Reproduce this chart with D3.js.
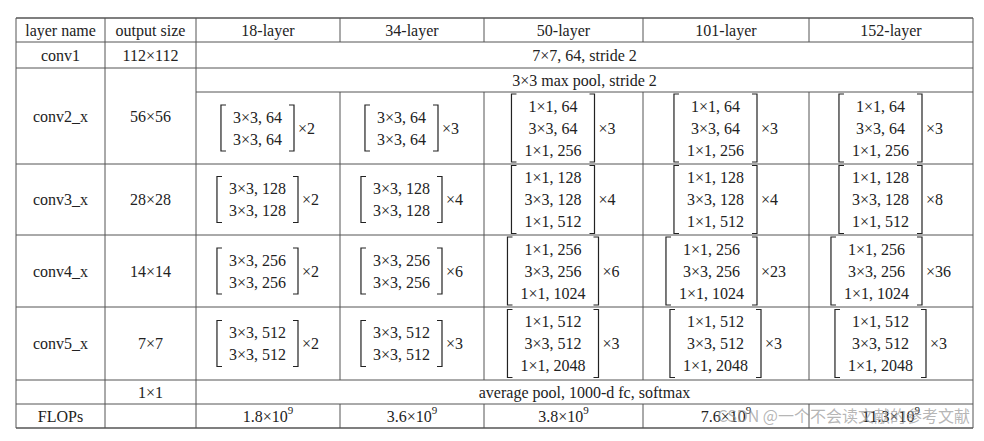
<!DOCTYPE html>
<html><head><meta charset="utf-8">
<script src="https://cdn.jsdelivr.net/npm/d3@7"></script>
<style>body{margin:0;background:#fff}</style>
</head><body><svg id="c" width="984" height="441"></svg>
<script>
// table content
const headers = ['layer name', 'output size', '18-layer', '34-layer', '50-layer', '101-layer', '152-layer'];
const stageNames = ['conv2_x', 'conv3_x', 'conv4_x', 'conv5_x'];
const outputSizes = ['112×112', '56×56', '28×28', '14×14', '7×7', '1×1'];
const widths = [64, 128, 256, 512];
const repeats = {
  '18-layer': [2, 2, 2, 2],
  '34-layer': [3, 4, 6, 3],
  '50-layer': [3, 4, 6, 3],
  '101-layer': [3, 4, 23, 3],
  '152-layer': [3, 8, 36, 3]
};
const flops = ['1.8', '3.6', '3.8', '7.6', '11.3'];

const colX = [16, 105, 196, 340, 484, 643, 809, 973];
const rowY = [18, 42, 68, 92, 164, 235, 307, 380, 404, 428];
const SERIF = "'Liberation Serif', 'DejaVu Serif', 'Times New Roman', serif";

const svg = d3.select('#c');
const g = svg.append('g').attr('font-family', SERIF).attr('font-size', 16).attr('fill', '#222');

function hline(x1, x2, y, w) {
  g.append('line').attr('x1', x1).attr('x2', x2).attr('y1', y).attr('y2', y)
    .attr('stroke', '#555').attr('stroke-width', w || 1);
}
function vline(x, y1, y2) {
  g.append('line').attr('x1', x).attr('x2', x).attr('y1', y1).attr('y2', y2)
    .attr('stroke', '#555').attr('stroke-width', 1);
}
function label(x, y, t) {
  return g.append('text').attr('x', x).attr('y', y).attr('text-anchor', 'middle')
    .attr('dominant-baseline', 'central').style('font-family', SERIF).text(t);
}
const cx = i => (colX[i] + colX[i + 1]) / 2;
const cy = i => (rowY[i] + rowY[i + 1]) / 2;

// grid
hline(colX[0], colX[7], rowY[0], 1.6);
[1, 2, 4, 5, 6, 7, 8].forEach(i => hline(colX[0], colX[7], rowY[i]));
hline(colX[2], colX[7], rowY[3]);
hline(colX[0], colX[7], rowY[9], 1.6);
vline(colX[0], rowY[0], rowY[9]);
vline(colX[7], rowY[0], rowY[9]);
vline(colX[1], rowY[0], rowY[9]);
vline(colX[2], rowY[0], rowY[9]);
[3, 4, 5, 6].forEach(i => {
  vline(colX[i], rowY[0], rowY[1]);
  vline(colX[i], rowY[3], rowY[7]);
  vline(colX[i], rowY[8], rowY[9]);
});

// headers and single cells
headers.forEach((h, i) => label(cx(i), cy(0), h));
label(cx(0), cy(1), 'conv1');
label(cx(1), cy(1), outputSizes[0]);
label((colX[2] + colX[7]) / 2, cy(1), '7×7, 64, stride 2');
label((colX[2] + colX[7]) / 2, (rowY[2] + rowY[3]) / 2, '3×3 max pool, stride 2');
label(cx(0), (rowY[2] + rowY[4]) / 2, stageNames[0]);
label(cx(1), (rowY[2] + rowY[4]) / 2, outputSizes[1]);
for (let s = 1; s < 4; s++) {
  label(cx(0), cy(s + 3), stageNames[s]);
  label(cx(1), cy(s + 3), outputSizes[s + 1]);
}
label(cx(1), cy(7), outputSizes[5]);
label((colX[2] + colX[7]) / 2, cy(7), 'average pool, 1000-d fc, softmax');
label(cx(0), cy(8), 'FLOPs');
flops.forEach((f, i) => {
  const t = label(cx(i + 2), cy(8), null);
  t.append('tspan').text(f + '×10');
  t.append('tspan').attr('dy', -6).attr('font-size', 11).text('9');
});

// bracketed blocks
headers.slice(2).forEach((name, ci) => {
  const col = ci + 2;
  const deep = ci >= 2;
  for (let s = 0; s < 4; s++) {
    const w = widths[s];
    const lines = deep ? [`1×1, ${w}`, `3×3, ${w}`, `1×1, ${w * 4}`] : [`3×3, ${w}`, `3×3, ${w}`];
    const top = s === 0 ? rowY[3] : rowY[s + 3];
    const bot = rowY[s === 0 ? 4 : s + 4];
    const mid = (top + bot) / 2;
    const gap = 22;
    const cell = g.append('g');
    const texts = lines.map((l, k) => cell.append('text').attr('text-anchor', 'middle')
      .attr('dominant-baseline', 'central').style('font-family', SERIF)
      .attr('y', mid + (k - (lines.length - 1) / 2) * gap).text(l));
    const tw = d3.max(texts, t => t.node().getComputedTextLength());
    const mult = cell.append('text').attr('dominant-baseline', 'central').style('font-family', SERIF)
      .attr('y', mid).text('×' + repeats[name][s]);
    const mw = mult.node().getComputedTextLength();
    const pad = deep ? 13 : 12, bw = tw + 2 * pad;
    const total = bw + 4 + mw;
    const x0 = cx(col) - total / 2;
    texts.forEach(t => t.attr('x', x0 + bw / 2));
    mult.attr('x', x0 + bw + 4);
    const h = lines.length * gap / 2 + 1;
    const y1 = mid - h, y2 = mid + h;
    cell.append('path').attr('fill', 'none').attr('stroke', '#222').attr('stroke-width', 1.2)
      .attr('d', `M${x0 + 5},${y1}H${x0}V${y2}H${x0 + 5}M${x0 + bw - 5},${y1}H${x0 + bw}V${y2}H${x0 + bw - 5}`);
  }
});

// watermark
svg.append('text').attr('x', 970).attr('y', 422).attr('text-anchor', 'end')
  .style('font-family', '"Noto Sans CJK SC", sans-serif').style('font-size', '16px')
  .style('fill', 'rgba(150,150,150,0.7)').text('CSDN @一个不会读文献的参考文献');
</script></body></html>
